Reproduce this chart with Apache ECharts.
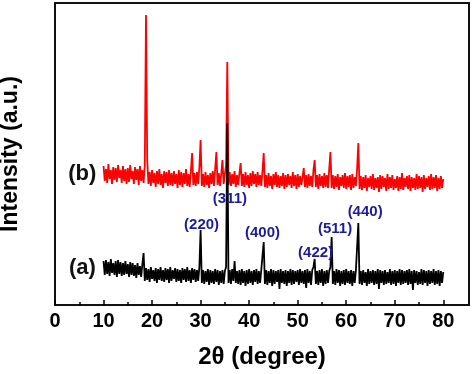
<!DOCTYPE html>
<html>
<head>
<meta charset="utf-8">
<script src="https://cdn.jsdelivr.net/npm/echarts@6/dist/echarts.min.js"></script>
<style>
html,body{margin:0;padding:0;background:#fff;}
#chart{width:474px;height:374px;}
</style>
</head>
<body>
<div id="chart"></div>
<script>
// 2-theta sampling grid (degrees)
const angleStart = 10;
const angleStep = 0.25;

// Sample (b) intensity, one value per grid step from 10 to 80 degrees
const intensityB = [
  139,124,136,122,141,126,135,121,138,125,137,123,140,127,135,122,139,124,136,121,
  137,123,140,126,134,121,138,125,136,120,139,124,135,122,140,
  290,
  145,121,133,119,135,122,132,118,134,121,136,120,131,117,134,122,133,119,135,120,
  132,119,134,121,131,117,135,120,133,118,132,121,136,119,131,118,134,
  152,
  120,132,119,133,121,138,
  165,
  119,131,118,133,120,130,117,132,121,134,119,136,
  153,
  120,132,119,131,
  145,
  121,131,140,
  243,
  120,133,119,131,121,134,118,130,120,132,
  142,
  119,131,118,133,120,130,117,132,119,134,121,131,118,133,120,130,119,134,
  152,
  118,130,117,132,119,129,116,131,120,133,118,130,117,129,119,132,116,130,118,131,
  120,129,117,133,119,130,116,131,118,129,120,128,
  137,
  118,130,117,131,119,129,118,135,
  145,
  118,130,116,131,119,129,117,132,118,130,117,136,
  153,
  117,130,116,129,118,131,115,128,119,130,117,132,116,129,118,130,115,131,117,128,119,137,
  162,
  116,129,115,128,117,130,114,127,118,129,
  116,131,115,127,117,128,113,130,116,129,
  118,127,114,131,116,128,117,130,115,126,
  117,129,114,128,116,132,115,127,118,129,
  116,130,114,128,117,127,115,131,116,129,
  117,128,113,130,116,127,118,129,115,131,
  116,128,117,130,114,127,116,129,117,126
];

// Sample (a) intensity, same grid
const intensityA = [
  44,30,45,31,43,29,46,32,42,30,44,28,45,31,43,29,42,30,44,31,
  41,28,43,30,42,29,40,27,42,30,39,28,41,
  52,
  24,37,25,36,23,38,26,35,24,37,
  22,36,25,38,24,35,23,37,25,36,
  22,38,24,35,26,37,23,36,24,35,
  22,37,25,36,23,38,24,35,22,37,
  25,36,23,35,24,38,
  75,
  22,35,21,34,23,36,20,35,22,34,21,36,23,35,20,34,22,35,21,34,38,
  182,
  22,35,21,36,24,
  44,
  22,34,21,35,20,36,22,34,19,35,21,36,22,34,20,35,23,36,21,34,22,35,37,
  63,
  21,35,20,34,22,36,19,35,21,34,23,35,16,36,22,34,21,35,19,34,
  22,36,20,35,21,34,23,35,20,36,22,34,21,35,17,36,22,34,20,35,38,
  46,
  21,34,20,35,22,36,19,34,21,35,22,34,38,
  68,
  21,34,20,36,22,35,19,34,21,35,20,36,22,34,21,35,19,34,22,35,37,
  82,
  21,34,20,35,22,33,19,36,21,34,
  22,35,20,34,21,36,16,35,22,34,
  20,35,21,33,22,36,20,34,21,35,
  19,34,22,36,20,35,21,34,22,35,
  20,36,21,34,15,35,22,34,20,33,
  21,36,20,35,22,34,19,35,21,34,
  22,36,20,34,21,35,19,34,22,33
];

// Axis ticks
const majorTicks = [0,10,20,30,40,50,60,70,80];
const minorTicks = [5,15,25,35,45,55,65,75];

// Miller-index annotations (text, anchor angle, anchor intensity)
const hklLabels  = ['(220)','(311)','(400)','(422)','(511)','(440)'];
const hklAngles  = [30.2, 36.05, 42.75, 53.7, 57.7, 63.9];
const hklHeights = [80, 106.5, 72.5, 52, 76, 93.5];

// Sample tags
const sampleTags    = ['(b)','(a)'];
const sampleAngles  = [5.6, 5.65];
const sampleHeights = [131.5, 37];

function toPairs(vals){
  return vals.map((v,i)=>[angleStart + i*angleStep, v]);
}

const FONT = 'Liberation Sans, Arial, sans-serif';
const chart = echarts.init(document.getElementById('chart'), null, {renderer:'canvas'});

const axisCommon = {
  type:'value', min:0, max:85.3,
  splitLine:{show:false},
  axisLine:{show:false}
};

chart.setOption({
  animation:false,
  backgroundColor:'#fff',
  grid:{left:55, right:5, top:3, bottom:69, containLabel:false, outerBoundsMode:'none',
        show:true, borderColor:'#111', borderWidth:2, backgroundColor:'transparent'},
  xAxis:[
    Object.assign({}, axisCommon, {
      name:'2θ (degree)', nameLocation:'middle', nameGap:40,
      nameTextStyle:{fontFamily:FONT, fontWeight:'bold', fontSize:24, color:'#000'},
      axisTick:{show:true, inside:true, length:5, lineStyle:{color:'#000', width:1.5}, customValues:majorTicks},
      axisLabel:{show:true, margin:6, fontFamily:FONT, fontWeight:'bold', fontSize:20, color:'#000', customValues:majorTicks}
    }),
    Object.assign({}, axisCommon, {
      position:'bottom',
      axisTick:{show:true, inside:true, length:3, lineStyle:{color:'#000', width:1.5}, customValues:minorTicks},
      axisLabel:{show:false}
    })
  ],
  yAxis:{
    type:'value', min:0, max:302,
    name:'Intensity (a.u.)', nameLocation:'middle', nameGap:33,
    nameTextStyle:{fontFamily:FONT, fontWeight:'bold', fontSize:23, color:'#000'},
    axisLine:{show:false}, axisTick:{show:false}, axisLabel:{show:false}, splitLine:{show:false}
  },
  series:[
    {
      type:'line', name:'(b)', data:toPairs(intensityB), showSymbol:false, symbol:'none',
      lineStyle:{color:'#ff0000', width:1.8}, z:2
    },
    {
      type:'line', name:'(a)', data:toPairs(intensityA), showSymbol:false, symbol:'none',
      lineStyle:{color:'#000', width:1.8}, z:3
    },
    {
      type:'scatter', symbolSize:0, z:5, silent:true, itemStyle:{opacity:1},
      data:hklLabels.map((t,i)=>({value:[hklAngles[i], hklHeights[i]], name:t})),
      label:{show:true, position:'inside', formatter:p=>p.name, fontFamily:FONT, fontWeight:'bold', fontSize:15,
             color:'#1c1c9c', opacity:1, textBorderWidth:0, textBorderColor:'transparent'}
    },
    {
      type:'scatter', symbolSize:0, z:5, silent:true, itemStyle:{opacity:1},
      data:sampleTags.map((t,i)=>({value:[sampleAngles[i], sampleHeights[i]], name:t})),
      label:{show:true, position:'inside', formatter:p=>p.name, fontFamily:FONT, fontWeight:'bold', fontSize:22,
             color:'#111', opacity:1, textBorderWidth:0, textBorderColor:'transparent'}
    }
  ]
});
</script>
</body>
</html>
